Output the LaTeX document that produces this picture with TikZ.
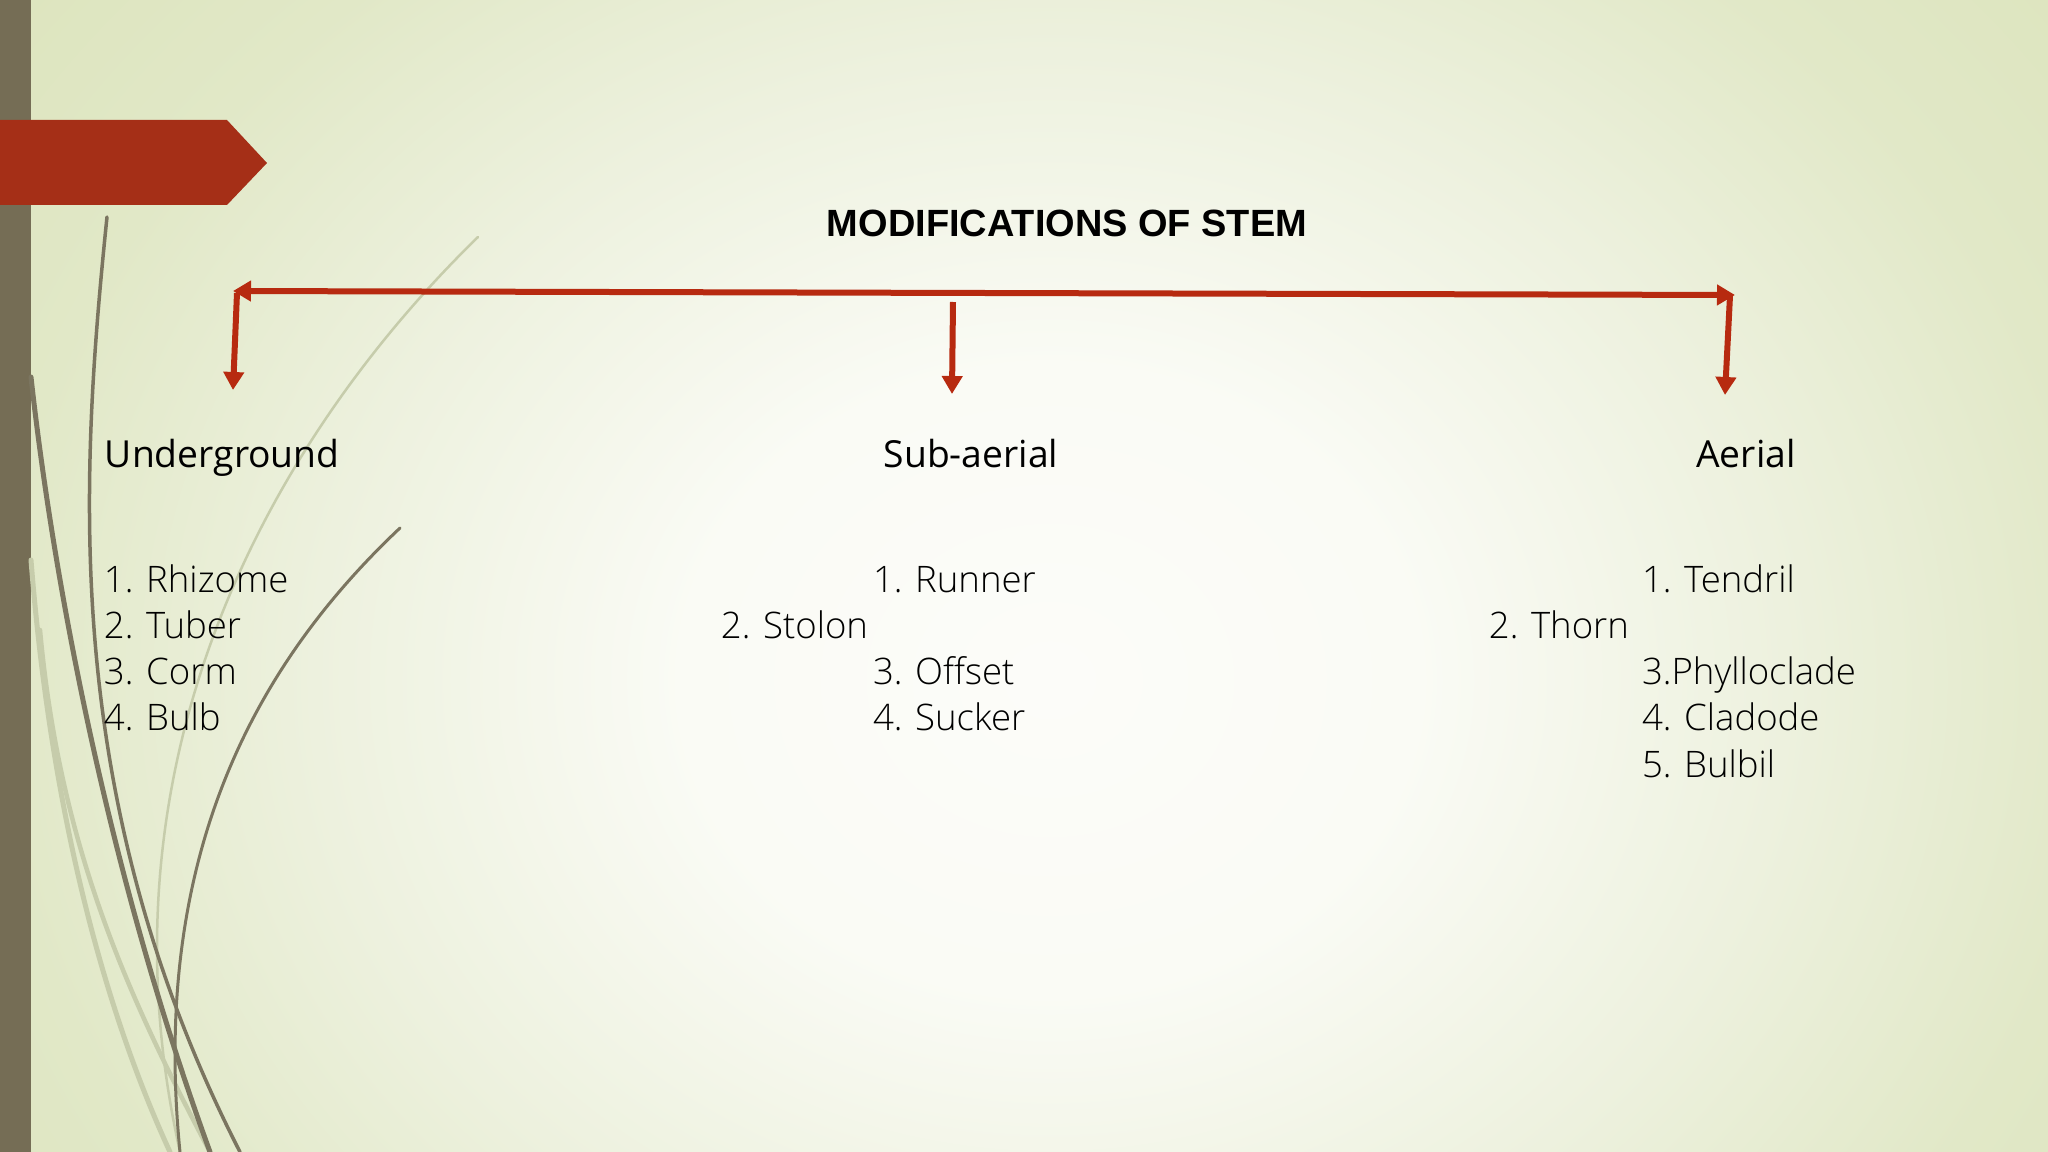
\documentclass[tikz,border=0pt]{standalone}
\usepackage{fontspec}
\IfFontExistsTF{Open Sans Light}{\setmainfont{Open Sans Light}}{\setmainfont{Open Sans}}
\newfontfamily\headfont{Open Sans}
\newfontfamily\titlefont{Liberation Sans}
\usetikzlibrary{arrows.meta,positioning}
\definecolor{slideRed}{HTML}{A52F17}
\definecolor{arrowRed}{HTML}{B72A10}
\definecolor{barOlive}{HTML}{756D55}
\definecolor{stemDark}{HTML}{7B7560}
\definecolor{stemLight}{HTML}{C6CCAB}
\definecolor{bgOuter}{HTML}{DCE4BC}
\definecolor{bgEdge}{HTML}{E1E8C7}
\definecolor{bgMid}{HTML}{EDF1DE}
\definecolor{bgCore}{HTML}{FAFBF5}
\definecolor{bgInner}{HTML}{FCFCF9}
\pgfdeclareradialshading{slidebg}{\pgfpoint{0bp}{0bp}}{color(0bp)=(bgInner); color(8bp)=(bgCore); color(16bp)=(bgMid); color(23bp)=(bgEdge); color(30bp)=(bgOuter); color(50bp)=(bgOuter)}

\begin{document}
\begin{tikzpicture}[every node/.style={inner sep=0pt,outer sep=0pt}]
      \tikzstyle{head}=[font=\headfont\fontsize{10.6}{14}\selectfont,text=black]
      \tikzstyle{item}=[font=\fontsize{10.4}{13}\selectfont,text=black,anchor=base west]
      \tikzstyle{link}=[arrowRed,line width=0.6mm,-{Triangle[length=1.8mm,width=2mm]}]
      \tikzstyle{stalk}=[stemDark,line cap=round]
      \tikzstyle{blade}=[stemLight,line cap=round]
      \useasboundingbox (0,0) rectangle (20.48,-11.52);
      \begin{scope}
        \clip (0,0) rectangle (20.48,-11.52);
        \shade[shading=slidebg] (-1.0,3.0) rectangle (22.0,-16.6);
      \end{scope}
      \fill[barOlive] (0,0) rectangle (0.31,-11.52);
      \fill[slideRed] (0,-1.20) -- (2.27,-1.20) -- (2.67,-1.63) -- (2.27,-2.05) -- (0,-2.05) -- cycle;
      % grass blades on the left edge
      \draw[blade,line width=0.5mm] (0.31,-5.6) .. controls (0.5,-8) and (1.0,-10) .. (1.70,-11.52);
      \draw[blade,line width=0.45mm] (0.40,-6.3) .. controls (0.6,-8.5) and (1.3,-10) .. (2.10,-11.52);
      \draw[blade,line width=0.25mm] (4.78,-2.37) .. controls (2.8,-4.3) and (0.9,-7.5) .. (1.80,-11.52);
      \draw[stalk,line width=0.5mm] (0.31,-3.77) .. controls (0.5,-5.5) and (1.0,-8.5) .. (2.10,-11.52);
      \draw[stalk,line width=0.35mm] (1.07,-2.17) .. controls (0.8,-4.8) and (0.6,-8.0) .. (2.40,-11.52);
      \draw[stalk,line width=0.3mm] (4.00,-5.28) .. controls (2.6,-6.6) and (1.5,-8.5) .. (1.80,-11.52);
      \node[font=\titlefont\bfseries\fontsize{10.8}{13}\selectfont,anchor=base] (title) at (10.67,-2.37) {MODIFICATIONS OF STEM};
      \node[head,anchor=base west] (ug) at (1.05,-4.67) {Underground};
      \node[head,anchor=base] (sa) at (9.71,-4.67) {Sub-aerial};
      \node[head,anchor=base] (ae) at (17.46,-4.67) {Aerial};
      \node[item] (ug1) at (1.04,-5.93) {1. Rhizome};
      \node[item] (ug2) at ([yshift=-4.6mm]ug1.base west) {2. Tuber};
      \node[item] (ug3) at ([yshift=-4.6mm]ug2.base west) {3. Corm};
      \node[item] (ug4) at ([yshift=-4.6mm]ug3.base west) {4. Bulb};
      \node[item] (sa1) at (8.73,-5.93) {1. Runner};
      \node[item,anchor=base east] (sa2) at (8.68,-6.39) {2. Stolon};
      \node[item] (sa3) at ([yshift=-9.2mm]sa1.base west) {3. Offset};
      \node[item] (sa4) at ([yshift=-4.6mm]sa3.base west) {4. Sucker};
      \node[item] (ae1) at (16.42,-5.93) {1. Tendril};
      \node[item,anchor=base east] (ae2) at (16.29,-6.39) {2. Thorn};
      \node[item] (ae3) at ([yshift=-9.2mm]ae1.base west) {3.Phylloclade};
      \node[item] (ae4) at ([yshift=-4.6mm]ae3.base west) {4. Cladode};
      \node[item] (ae5) at ([yshift=-4.6mm]ae4.base west) {5. Bulbil};
      \coordinate (spanW) at (2.33,-2.91);
      \coordinate (spanE) at (17.35,-2.95);
      \coordinate (rootW) at (2.37,-2.93);
      \coordinate (rootM) at (9.53,-3.02);
      \coordinate (rootE) at (17.30,-2.96);
      \coordinate (tipW) at (2.33,-3.90);
      \coordinate (tipM) at (9.52,-3.94);
      \coordinate (tipE) at (17.25,-3.95);
      \draw[link,{Triangle[length=1.8mm,width=2mm]}-{Triangle[length=1.8mm,width=2mm]}] (spanW) -- (spanE);
      \draw[link] (rootW) -- (tipW);
      \draw[link] (rootM) -- (tipM);
      \draw[link] (rootE) -- (tipE);
    \end{tikzpicture}
\end{document}
